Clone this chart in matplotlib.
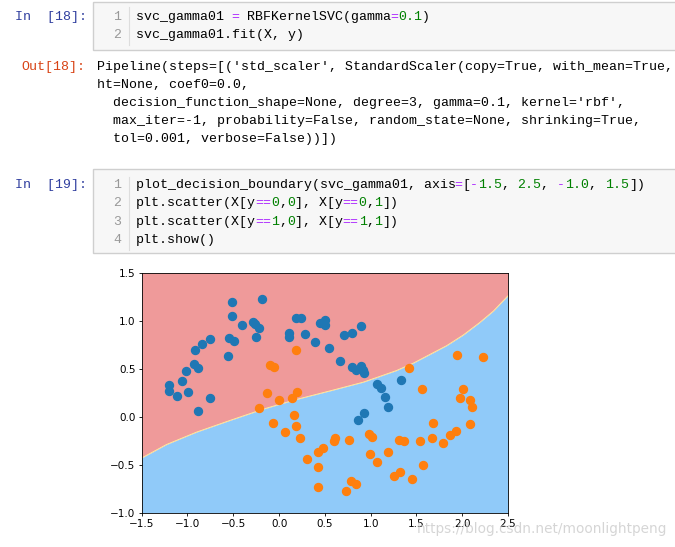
import matplotlib
matplotlib.use("Agg")
import matplotlib.pyplot as plt
from matplotlib.patches import Rectangle

# points of class 0 (blue) and class 1 (orange)
blue_x = [-1.20, -1.20, -1.11, -1.06, -0.99, -1.02, -0.93, -0.88, -0.92, -0.84,
          -0.75, -0.75, -0.89, -0.56, -0.55, -0.49, -0.51, -0.51, -0.41, -0.19,
          -0.29, -0.26, -0.22, -0.25, 0.11, 0.11, 0.19, 0.24, 0.28, 0.39,
          0.45, 0.50, 0.50, 0.54, 0.66, 0.71, 0.80, 0.89, 0.80, 0.84,
          0.89, 0.93, 0.92, 1.07, 1.11, 1.33, 1.16, 1.19, 0.86, 0.93]
blue_y = [0.33, 0.27, 0.22, 0.37, 0.26, 0.48, 0.55, 0.51, 0.70, 0.76,
          0.81, 0.19, 0.06, 0.63, 0.82, 0.79, 1.05, 1.19, 0.96, 1.23,
          0.99, 0.97, 0.92, 0.83, 0.87, 0.83, 1.03, 1.03, 0.86, 0.78,
          0.98, 1.01, 0.96, 0.72, 0.58, 0.85, 0.87, 0.95, 0.52, 0.49,
          0.53, 0.46, 0.49, 0.34, 0.30, 0.38, 0.21, 0.10, -0.03, 0.04]
orange_x = [0.18, -0.10, -0.05, -0.13, 0.00, 0.14, 0.20, -0.22, 0.16, -0.07,
            0.07, 0.19, 0.23, 0.30, 0.42, 0.48, 0.42, 0.43, 0.60, 0.61,
            0.76, 0.73, 0.79, 0.84, 0.98, 1.02, 0.99, 1.07, 1.19, 1.25,
            1.32, 1.31, 1.36, 1.45, 1.54, 1.57, 1.67, 1.68, 1.79, 1.87,
            1.93, 2.08, 1.98, 2.09, 2.11, 1.94, 2.23, 2.01, 1.56, 1.42]
orange_y = [0.69, 0.54, 0.52, 0.25, 0.17, 0.20, 0.26, 0.09, 0.02, -0.07,
            -0.16, -0.10, -0.22, -0.44, -0.37, -0.33, -0.52, -0.73, -0.25, -0.22,
            -0.24, -0.77, -0.67, -0.70, -0.18, -0.21, -0.39, -0.47, -0.37, -0.62,
            -0.58, -0.24, -0.25, -0.65, -0.25, -0.50, -0.22, -0.07, -0.27, -0.19,
            -0.15, -0.08, 0.20, 0.17, 0.10, 0.64, 0.62, 0.29, 0.29, 0.51]

# decision boundary of the rbf svc
boundary_x = [-1.5, -1.23, -0.90, -0.54, -0.17, 0.19, 0.56, 0.92, 1.10, 1.28,
              1.47, 1.65, 1.83, 2.01, 2.19, 2.34, 2.5]
boundary_y = [-0.43, -0.29, -0.16, -0.04, 0.08, 0.18, 0.27, 0.36, 0.42, 0.48,
              0.56, 0.65, 0.74, 0.85, 0.98, 1.10, 1.26]

W, H = 675, 547
fig = plt.figure(figsize=(W / 100, H / 100), dpi=100)

MONO = "Liberation Mono"
CW = 7.95  # pixel width of one code character
PURPLE = "#AA22FF"
GREEN = "#008000"
BLACK = "#000000"


def fx(px):
    return px / W


def fy(py):
    return 1 - py / H


def code_line(x0, y, tokens, size=9.5):
    i = 0
    for s, c in tokens:
        fig.text(fx(x0 + i * CW), fy(y), s, color=c, family=MONO, size=size,
                 va="center", ha="left")
        i += len(s)


def cell_box(top, bottom, sep_top, sep_bot):
    fig.patches.append(Rectangle((fx(92.5), fy(bottom)), fx(600), (bottom - top) / H,
                                 transform=fig.transFigure, facecolor="#f7f7f7",
                                 edgecolor="#cfcfcf", lw=1))
    fig.add_artist(plt.Line2D([fx(129), fx(129)], [fy(sep_top), fy(sep_bot)],
                              transform=fig.transFigure, color="#dddddd", lw=0.8))


# cell 18
cell_box(2, 50, 7, 45)
fig.text(fx(15), fy(17), "In  [18]:", color="#303F9F", family=MONO, size=9.5, va="center")
for n, y in [("1", 17), ("2", 35)]:
    fig.text(fx(117), fy(y), n, color="#999999", family=MONO, size=9.5, va="center", ha="center")
code_line(136, 17, [("svc_gamma01 ", BLACK), ("=", PURPLE), (" RBFKernelSVC(gamma", BLACK),
                    ("=", PURPLE), ("0.1", GREEN), (")", BLACK)])
code_line(136, 35, [("svc_gamma01.fit(X, y)", BLACK)])

fig.text(fx(21), fy(67), "Out[18]:", color="#D84315", family=MONO, size=9.5, va="center")
out_lines = ["Pipeline(steps=[('std_scaler', StandardScaler(copy=True, with_mean=True,",
             "ht=None, coef0=0.0,",
             "  decision_function_shape=None, degree=3, gamma=0.1, kernel='rbf',",
             "  max_iter=-1, probability=False, random_state=None, shrinking=True,",
             "  tol=0.001, verbose=False))])"]
for k, s in enumerate(out_lines):
    code_line(97, 67 + k * 18.1, [(s, BLACK)])

# cell 19
cell_box(169, 253, 177, 250)
fig.text(fx(15), fy(185), "In  [19]:", color="#303F9F", family=MONO, size=9.5, va="center")
for k in range(4):
    fig.text(fx(117), fy(185 + k * 18.4), str(k + 1), color="#999999", family=MONO,
             size=9.5, va="center", ha="center")
code_line(136, 185, [("plot_decision_boundary(svc_gamma01, axis", BLACK), ("=", PURPLE),
                     ("[", BLACK), ("-", PURPLE), ("1.5", GREEN), (", ", BLACK),
                     ("2.5", GREEN), (", ", BLACK), ("-", PURPLE), ("1.0", GREEN),
                     (", ", BLACK), ("1.5", GREEN), ("])", BLACK)])
code_line(136, 203.4, [("plt.scatter(X[y", BLACK), ("==", PURPLE), ("0", GREEN), (",", BLACK),
                       ("0", GREEN), ("], X[y", BLACK), ("==", PURPLE), ("0", GREEN),
                       (",", BLACK), ("1", GREEN), ("])", BLACK)])
code_line(136, 221.8, [("plt.scatter(X[y", BLACK), ("==", PURPLE), ("1", GREEN), (",", BLACK),
                       ("0", GREEN), ("], X[y", BLACK), ("==", PURPLE), ("1", GREEN),
                       (",", BLACK), ("1", GREEN), ("])", BLACK)])
code_line(136, 240.2, [("plt.show()", BLACK)])

# the plot
ax = fig.add_axes([fx(141.7), 1 - 512.7 / H, (508 - 141.7) / W, (512.7 - 272.7) / H])
ax.fill_between(boundary_x, boundary_y, 1.5, color="#EF9A9A", lw=0)
ax.fill_between(boundary_x, -1.0, boundary_y, color="#90CAF9", lw=0)
ax.plot(boundary_x, boundary_y, color="#FFF59D", lw=0.6)
ax.scatter(blue_x, blue_y, s=33, color="#1f77b4", zorder=3)
ax.scatter(orange_x, orange_y, s=33, color="#ff7f0e", zorder=3)
ax.set_xlim(-1.5, 2.5)
ax.set_ylim(-1.0, 1.5)
ax.set_xticks([-1.5, -1.0, -0.5, 0.0, 0.5, 1.0, 1.5, 2.0, 2.5])
ax.set_yticks([-1.0, -0.5, 0.0, 0.5, 1.0, 1.5])
ax.tick_params(labelsize=7.5, length=2.5, width=0.6, pad=2)
for sp in ax.spines.values():
    sp.set_linewidth(0.6)

# blog watermark, drawn over the tick labels as in the screenshot
fig.text(fx(417), fy(529), "https://blog.csdn.net/moonlightpeng", color="#c8c8c8",
         alpha=0.75, size=9.8, va="center", family="DejaVu Sans")

fig.savefig("out.png", dpi=100)
